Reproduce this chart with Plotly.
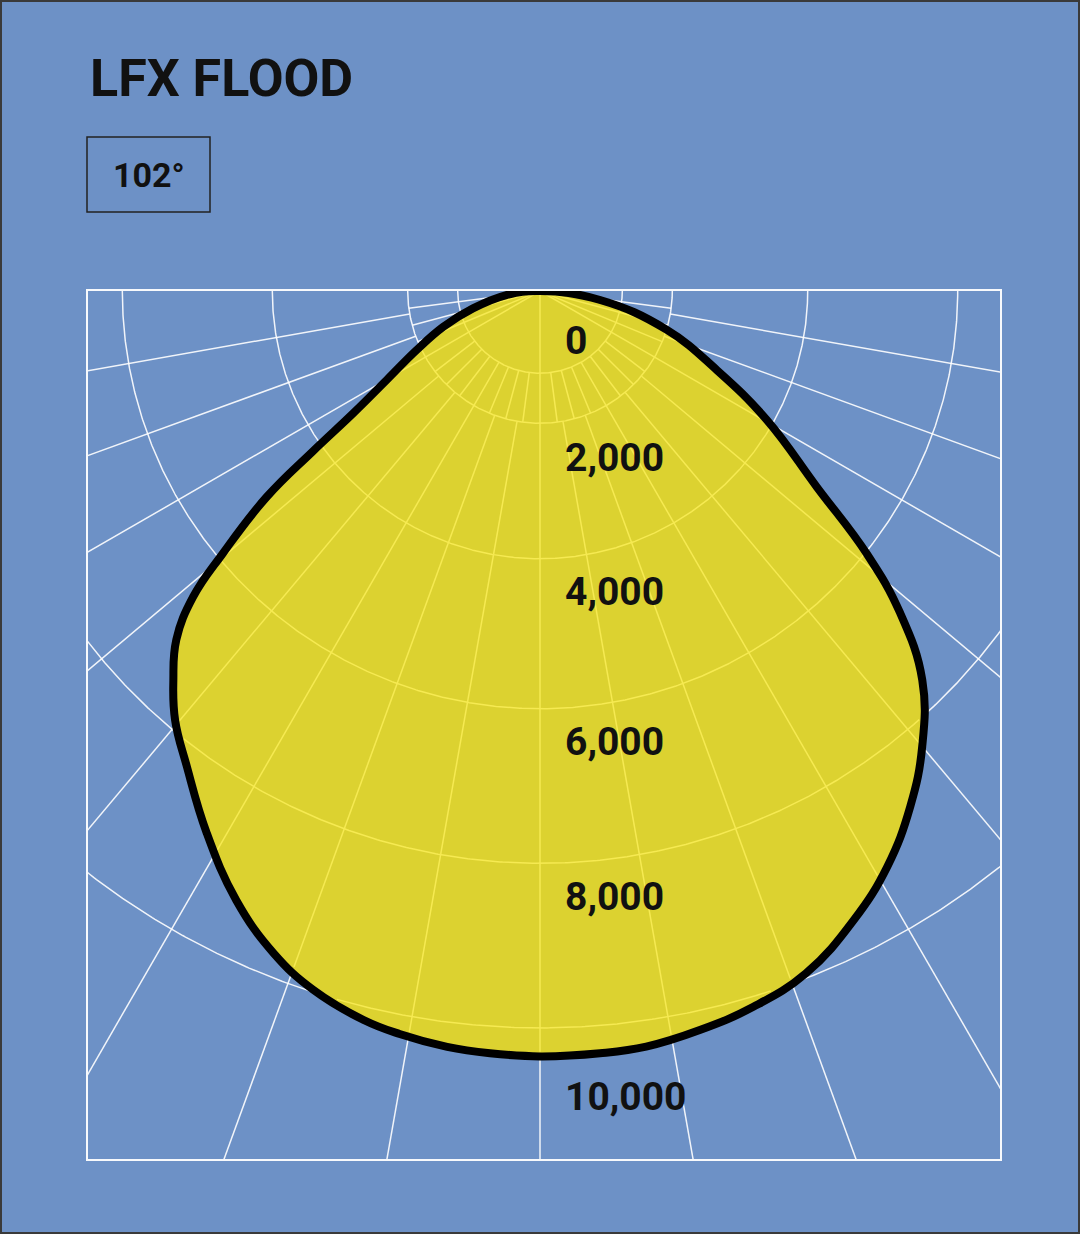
import numpy as np
import plotly.graph_objects as go

# luminous intensity, angle from nadir (negative = left side)
angles = [-90, -83.2, -75.5, -69.7, -64.4, -59.9, -56.8, -54.8, -53.0, -50.4, -48.6, -46.2, -43.3,
          -40.4, -36.6, -31.6, -26.5, -21.9, -18.0, -13.6, -10.7, -7.0, -3.75, 0, 4.5, 8.0, 12.2, 16.6, 21.3,
          26.5, 31.1, 35.7, 40.0, 44.5, 48.2, 51.2, 54.7, 60.4, 65.9, 73.0, 81.5, 90]
candela = [0, 440, 900, 1340, 1780, 2300, 2900, 3610, 4450, 5350, 6010, 6550, 6950,
           7320, 7700, 8270, 8850, 9280, 9550, 9750, 9830, 9900, 9930, 9950, 9940, 9920, 9830, 9710, 9520,
           9140, 8740, 8250, 7730, 7090, 6280, 5450, 4410, 3390, 2520, 1720, 790, 0]

# polar grid of the diagram
arc_radii = [1070, 1720, 3480, 5430, 7440, 9580]
spokes_10 = list(range(-80, 81, 10))
spokes_75 = list(np.arange(-82.5, 83, 7.5))

# radial labels
tick_text = ["0", "2,000", "4,000", "6,000", "8,000", "10,000"]
tick_pos = [650, 2170, 3910, 5860, 7880, 10480]

title = "LFX FLOOD"
beam = "102°"

BLUE = "#6D91C6"
YELLOW = "#DCD230"
GRID_IN = "#F6EA52"
GRID_OUT = "rgba(255,255,255,0.9)"
FONT = "Roboto"

def to_xy(theta, r):
    t = np.radians(np.asarray(theta, dtype=float))
    r = np.asarray(r, dtype=float)
    return r * np.sin(t), -r * np.cos(t)

def curve_r(theta):
    return np.interp(theta, angles, candela)

FAR = 20000
inner, second = arc_radii[0], arc_radii[1]

# grid segments as (theta, r0, r1)
segments = [(0, 0, FAR)]
for a in spokes_10:
    if a != 0:
        segments.append((a, second, FAR))
for a in spokes_75:
    if abs(a) < 1e-6:
        continue
    start = 0 if abs(a) >= 60 else inner
    segments.append((a, start, second))

arc_theta = np.linspace(-90, 90, 721)

def grid_lines(clip):
    xs, ys = [], []
    margin = 60
    for a, r0, r1 in segments:
        if clip:
            r1 = min(r1, curve_r(a) - margin)
            if r1 <= r0:
                continue
        x, y = to_xy([a, a], [r0, r1])
        xs += list(x) + [None]
        ys += list(y) + [None]
    for R in arc_radii:
        x, y = to_xy(arc_theta, np.full(arc_theta.shape, R))
        x = x.astype(object)
        y = y.astype(object)
        if clip:
            off = curve_r(arc_theta) - margin < R
            x[off] = None
            y[off] = None
        xs += list(x) + [None]
        ys += list(y) + [None]
    return xs, ys

fig = go.Figure()

gx, gy = grid_lines(False)
fig.add_trace(go.Scatter(x=gx, y=gy, mode="lines", line=dict(color=GRID_OUT, width=1.5),
                         hoverinfo="skip", showlegend=False))

cx, cy = to_xy(angles, candela)
fig.add_trace(go.Scatter(x=cx, y=cy, mode="lines", fill="toself", fillcolor=YELLOW,
                         line=dict(width=0, shape="spline", smoothing=1.2), hoverinfo="skip", showlegend=False))

yx, yy = grid_lines(True)
fig.add_trace(go.Scatter(x=yx, y=yy, mode="lines", line=dict(color=GRID_IN, width=1.5),
                         hoverinfo="skip", showlegend=False))

fig.add_trace(go.Scatter(x=cx, y=cy, mode="lines", line=dict(color="#000000", width=8, shape="spline", smoothing=1.2),
                         hovertemplate="%{text}<extra></extra>",
                         text=[f"{a}°: {c:,} cd" for a, c in zip(angles, candela)], showlegend=False))

for t, p in zip(tick_text, tick_pos):
    fig.add_annotation(x=300, y=-p, xref="x", yref="y", text=t, showarrow=False,
                       xanchor="left", yanchor="middle",
                       font=dict(family=FONT, size=39, color="#111111", weight="bold"))

W, H = 1080, 1234
L, R, T, B = 88, 80, 291, 75
pw, ph = W - L - R, H - T - B

def px_x(v):
    return (v - L) / pw

def px_y(v):
    return (H - B - v) / ph

fig.add_shape(type="rect", xref="paper", yref="paper", x0=px_x(87), x1=px_x(210), y0=px_y(212), y1=px_y(137),
              line=dict(color="#222222", width=1.5))
fig.add_annotation(xref="paper", yref="paper", x=px_x(148.5), y=px_y(175), text=beam, showarrow=False,
                   xanchor="center", yanchor="middle",
                   font=dict(family=FONT, size=34, color="#111111", weight="bold"))
fig.add_shape(type="rect", xref="paper", yref="paper", x0=px_x(1), x1=px_x(W - 1), y0=px_y(H - 1), y1=px_y(1),
              line=dict(color="#3A3A3A", width=2))

scale = 13.0  # candela per pixel
axis = dict(showgrid=False, zeroline=False, showticklabels=False, ticks="", showline=True, mirror=True,
            linecolor="rgba(255,255,255,0.95)", linewidth=1.5, fixedrange=True)
fig.update_xaxes(range=[-452 * scale, 460 * scale], **axis)
fig.update_yaxes(range=[-868 * scale, 0], **axis)

fig.update_layout(
    width=W, height=H,
    margin=dict(l=L, r=R, t=T, b=B),
    paper_bgcolor=BLUE, plot_bgcolor=BLUE,
    title=dict(text=title, x=90 / W, xanchor="left", y=1 - 78 / H, yanchor="middle",
               font=dict(family=FONT, size=52, color="#111111", weight="bold")),
    showlegend=False,
)

# browser default body margin would push the figure 8px off
fig.write_html("out.html", config={"displayModeBar": False},
               post_script="document.body.style.margin='0px';")
